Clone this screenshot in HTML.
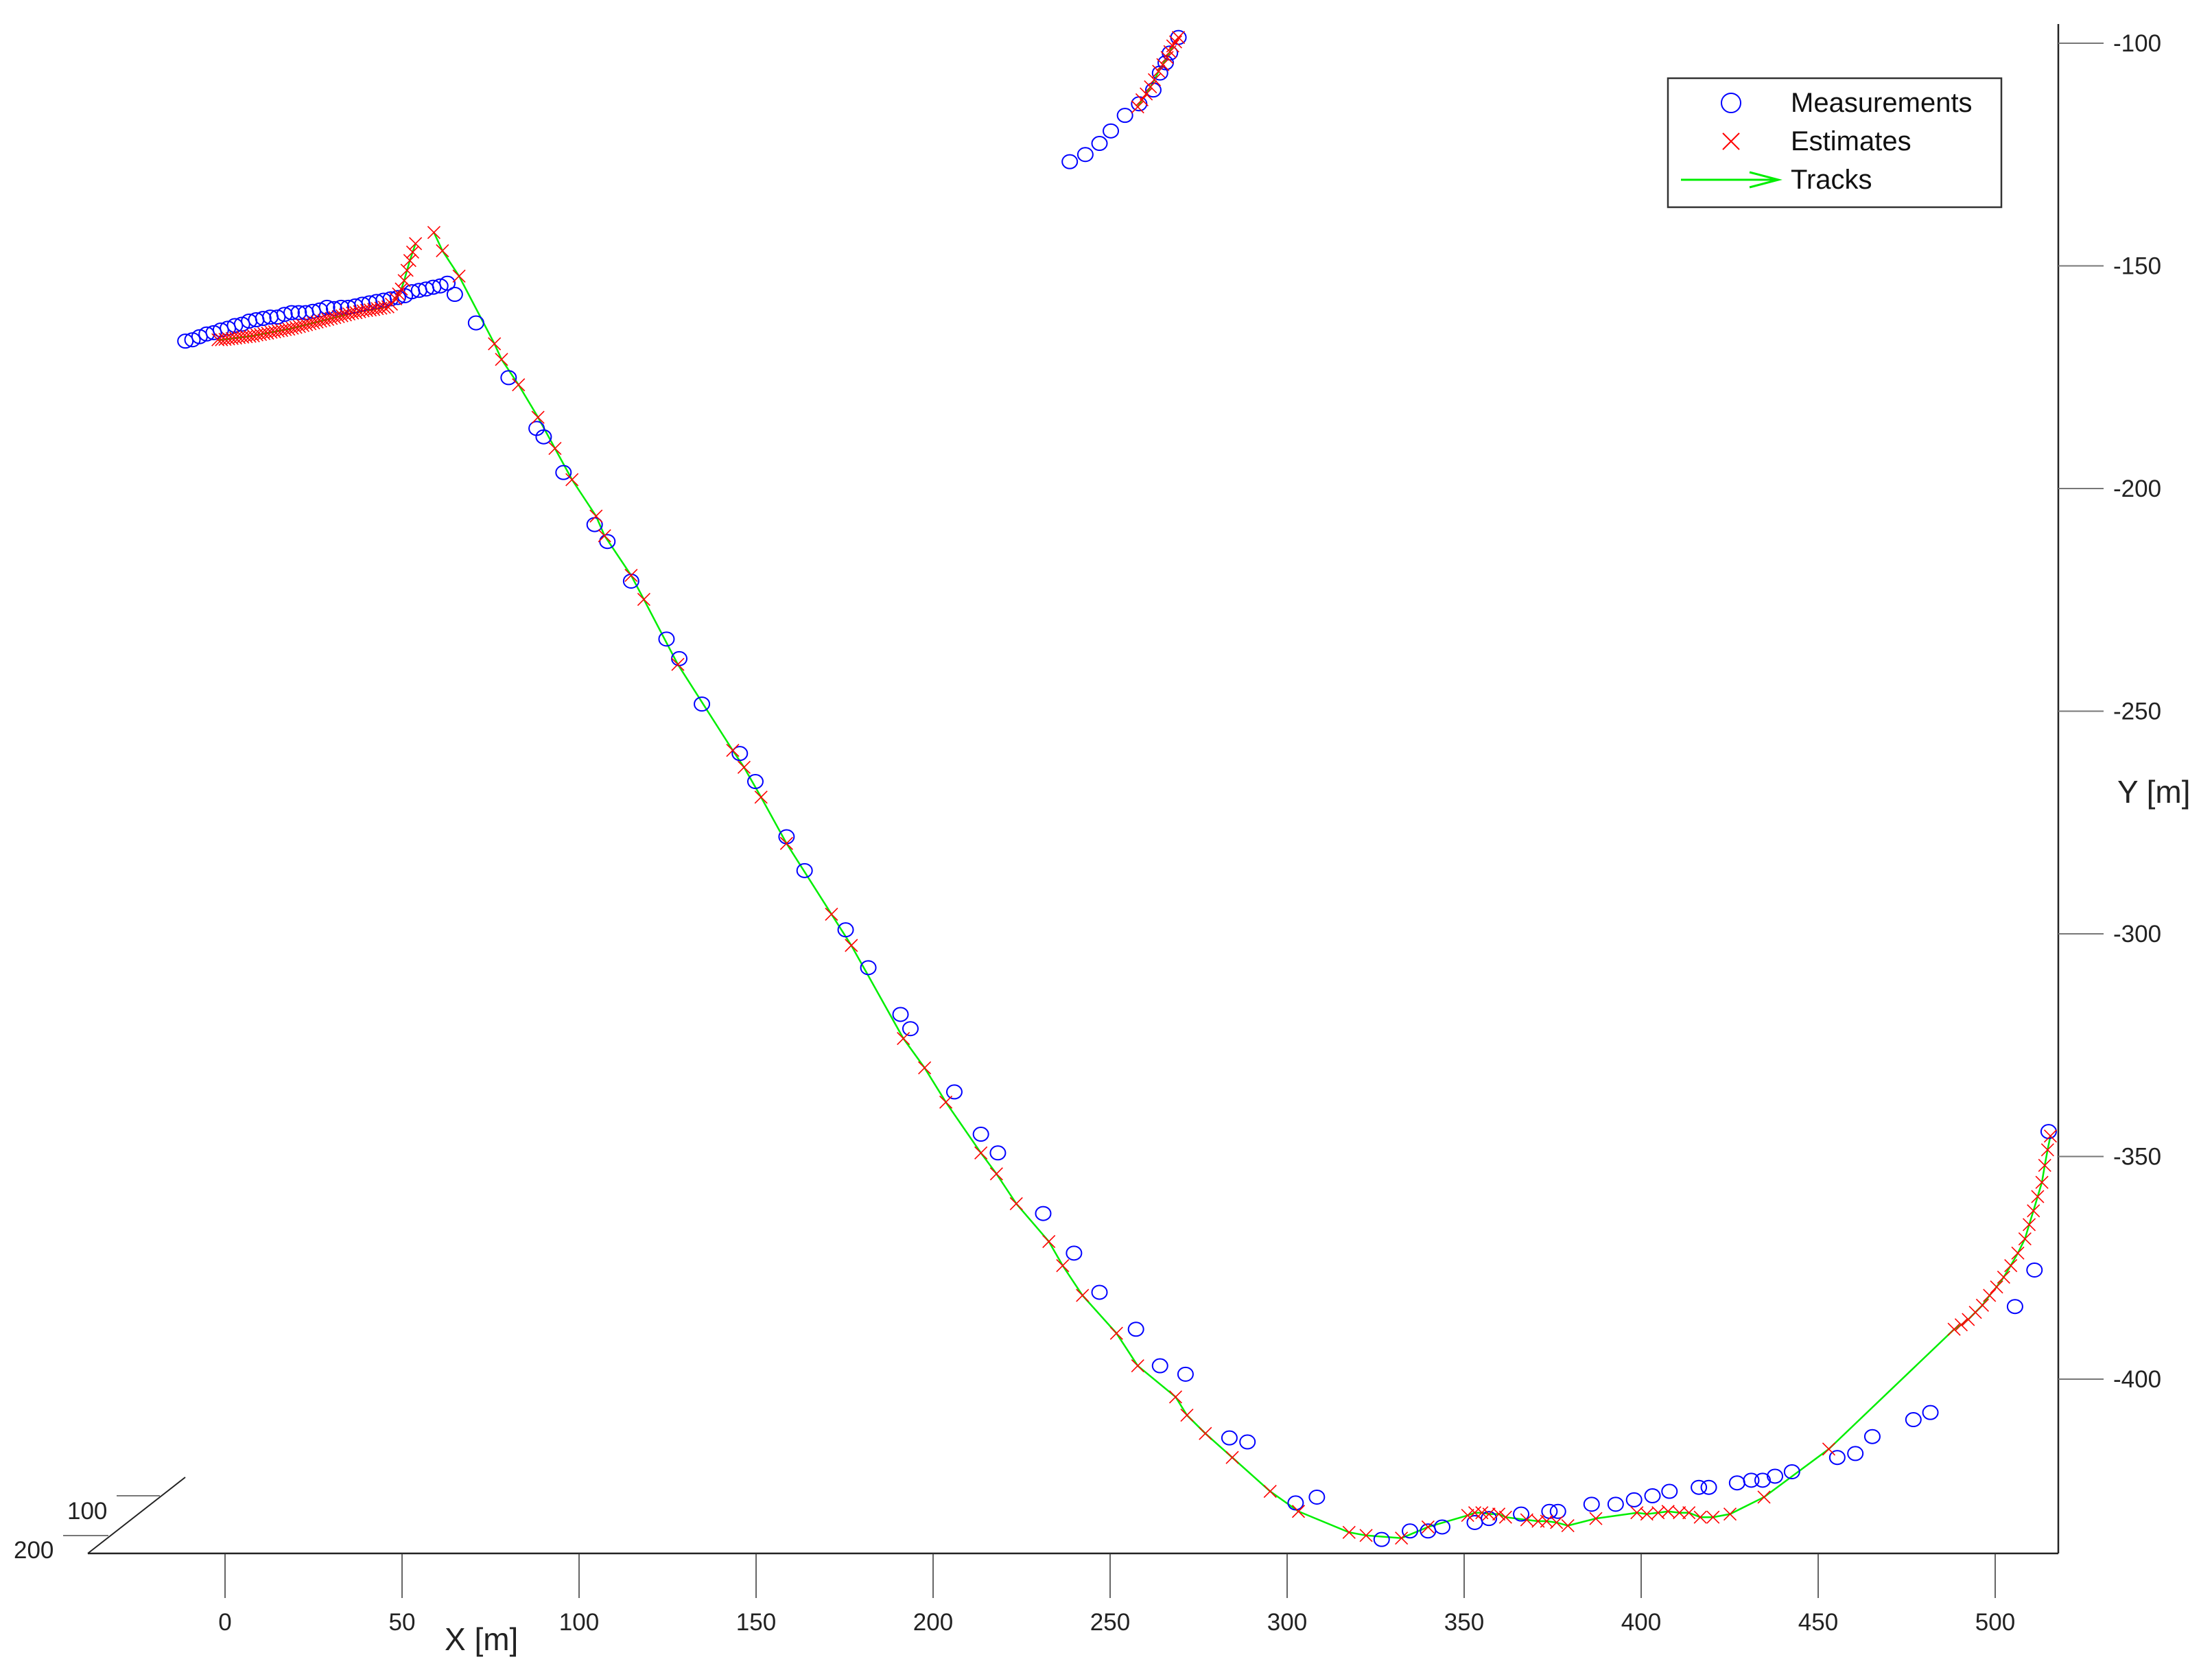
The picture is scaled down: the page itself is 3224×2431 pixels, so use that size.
<!DOCTYPE html>
<html><head><meta charset="utf-8"><style>
html,body{margin:0;padding:0;background:#fff;}
svg{display:block;font-family:"Liberation Sans",sans-serif;}
</style></head><body>
<svg id="chart" width="3224" height="2431" viewBox="0 0 3224 2431" xmlns="http://www.w3.org/2000/svg">
<rect x="0" y="0" width="3224" height="2431" fill="#fff"/>
<g id="axes"></g>
<g id="tracks"></g>
<g id="meas"></g>
<g id="est"></g>
<g>
<rect x="2431" y="114" width="486" height="188" fill="#fff" stroke="#333" stroke-width="2.5"/>
<circle cx="2523" cy="150" r="14" fill="none" stroke="#0000ff" stroke-width="2"/>
<text x="2610" y="163" font-size="40" fill="#111">Measurements</text>
<path d="M2511,194 L2535,218 M2535,194 L2511,218" stroke="#ff0000" stroke-width="2"/>
<text x="2610" y="219" font-size="40" fill="#111">Estimates</text>
<path d="M2450,262 L2590,262 M2550,251 L2592,262 L2550,273" stroke="#00ee00" stroke-width="3" fill="none"/>
<text x="2610" y="275" font-size="40" fill="#111">Tracks</text>
</g>
</svg>
<script>
const xTicks=[0,50,100,150,200,250,300,350,400,450,500];
const yTicks=[-100,-150,-200,-250,-300,-350,-400];
const measX=[238.6,243.0,247.0,250.2,254.2,258.2,262.2,264.1,265.7,266.9,269.3,
-11.2,-9.2,-7.2,-5.2,-3.2,-1.2,0.8,2.8,4.8,6.8,8.8,10.8,12.8,14.8,16.8,18.8,20.8,22.8,24.8,26.8,28.8,30.8,32.8,34.8,36.8,38.8,40.8,42.8,44.8,46.8,48.8,50.8,52.8,54.8,56.8,58.8,60.8,62.8,
64.9,70.9,80.1,88.0,90.0,95.6,104.4,108.0,114.7,124.7,128.3,134.7,145.4,149.8,158.6,163.7,175.3,181.7,190.8,193.6,206.0,213.5,218.3,231.1,239.8,247.0,257.3,264.1,271.3,283.7,288.8,302.4,308.4,326.7,334.7,339.8,343.8,353.0,357.0,366.1,374.1,376.5,386.0,392.8,398.0,403.2,408.0,416.3,419.1,427.1,431.1,434.3,437.8,442.6,455.4,460.5,465.3,476.9,481.7,505.6,511.1,515.1];
const measY=[-126.6,-125.0,-122.5,-119.7,-116.2,-113.6,-110.5,-106.7,-104.4,-102.2,-98.7,
-166.9,-166.6,-165.9,-165.3,-165.0,-164.4,-164.0,-163.4,-163.1,-162.4,-162.1,-161.8,-161.5,-161.5,-160.9,-160.5,-160.5,-160.5,-160.2,-159.9,-159.3,-159.6,-159.3,-159.3,-159.0,-158.6,-158.3,-158.0,-157.7,-157.4,-157.1,-156.7,-155.8,-155.5,-155.2,-154.8,-154.5,-153.9,
-156.4,-162.8,-175.1,-186.5,-188.4,-196.4,-208.1,-211.9,-220.8,-233.8,-238.2,-248.4,-259.5,-265.8,-278.2,-285.8,-299.1,-307.6,-318.1,-321.3,-335.5,-345.0,-349.2,-362.8,-371.7,-380.5,-388.8,-397.0,-398.9,-413.2,-414.1,-427.8,-426.5,-436.0,-434.1,-434.1,-433.2,-432.2,-431.3,-430.3,-429.7,-429.7,-428.1,-428.1,-427.1,-426.2,-425.2,-424.3,-424.3,-423.3,-422.7,-422.7,-421.8,-420.8,-417.6,-416.7,-412.9,-409.1,-407.5,-383.7,-375.5,-344.4];
const estMainX=[59.0,61.4,66.1,76.1,78.1,82.9,88.4,93.2,98.0,104.8,107.2,114.7,118.3,127.9,143.4,146.6,151.4,158.6,171.3,176.9,191.6,197.6,203.6,213.5,217.9,223.5,232.7,236.6,242.2,251.8,257.8,268.5,271.7,276.9,284.5,295.2,303.2,317.5,322.3,332.3,339.8,351.0,353.0,355.0,357.0,359.8,361.7,367.7,370.9,373.3,376.1,379.3,387.2,398.8,401.6,404.8,407.6,410.8,413.5,416.7,420.3,425.1,434.7,453.0,488.4,490.4,492.4,494.4,496.4,498.4,500.4,502.4,504.4,506.4,508.4,509.6,510.8,512.0,513.2,514.0,514.8,515.6];
const estMainY=[-142.5,-146.6,-152.3,-167.5,-171.0,-176.7,-184.0,-191.0,-198.0,-206.2,-210.6,-219.5,-224.9,-239.5,-258.8,-262.6,-269.3,-279.7,-295.6,-302.6,-323.5,-330.1,-337.8,-349.2,-353.9,-360.6,-369.1,-374.5,-381.2,-389.7,-397.0,-404.0,-408.1,-412.2,-417.6,-425.2,-429.7,-434.4,-435.1,-435.7,-433.2,-430.6,-430.0,-430.0,-430.3,-430.3,-431.0,-431.6,-431.9,-431.9,-432.2,-432.9,-431.3,-430.0,-430.3,-430.0,-429.7,-430.0,-430.0,-431.0,-431.0,-430.3,-426.5,-415.7,-388.8,-387.8,-386.6,-385.0,-383.4,-381.2,-379.3,-377.1,-374.5,-371.7,-368.5,-365.3,-362.2,-359.0,-355.8,-352.0,-348.5,-345.4];
const estLeftX=[-2,-1,0,1,2,3,4,5,6,7,8,9,10,11,12,13,14,15,16,17,18,19,20,21,22,23,24,25,26,27,28,29,30,31,32,33,34,35,36,37,38,39,40,41,42,43,44,45,46,47,48.2,49.0,49.8,50.6,51.4,52.2,53.0,53.8];
const estLeftY=[-166.6,-166.6,-166.5,-166.4,-166.3,-166.2,-166.1,-166.0,-165.9,-165.8,-165.7,-165.5,-165.4,-165.2,-165.1,-164.9,-164.8,-164.6,-164.5,-164.3,-164.2,-164.0,-163.8,-163.6,-163.4,-163.2,-163.0,-162.8,-162.6,-162.4,-162.2,-162.0,-161.8,-161.6,-161.4,-161.2,-161.0,-160.8,-160.6,-160.5,-160.3,-160.1,-160.0,-159.9,-159.8,-159.6,-159.5,-159.3,-159.2,-158.6,-157.4,-156.3,-155.2,-153.3,-151.0,-148.8,-146.9,-145.0];
const estTopX=[257.8,259.0,260.2,261.4,262.5,263.7,264.9,266.1,266.9,267.7,268.5,269.3];
const estTopY=[-114.3,-112.7,-111.4,-109.8,-108.2,-106.3,-104.8,-103.2,-101.9,-100.6,-99.7,-98.7];

const NS="http://www.w3.org/2000/svg";
function X(v){return 328+5.16*v;}
function Y(v){return 63+(-100-v)*6.49;}
function mk(tag,attrs,parent){const e=document.createElementNS(NS,tag);for(const k in attrs)e.setAttribute(k,attrs[k]);parent.appendChild(e);return e;}
const axes=document.getElementById('axes');
let e;
e=mk('line',{x1:128,y1:2264,x2:3000,y2:2264,stroke:'#222','stroke-width':2.5},axes);


e=mk('line',{x1:3000,y1:35,x2:3000,y2:2264,stroke:'#222','stroke-width':2.5},axes);


e=mk('line',{x1:128,y1:2264,x2:270,y2:2153,stroke:'#222','stroke-width':2},axes);


e=mk('line',{x1:92,y1:2238,x2:158,y2:2238,stroke:'#777','stroke-width':2},axes);


e=mk('line',{x1:170,y1:2180,x2:233,y2:2180,stroke:'#777','stroke-width':2},axes);


e=mk('text',{x:98,y:2214,'font-size':35,fill:'#222'},axes);e.textContent='100';


e=mk('text',{x:20,y:2271,'font-size':35,fill:'#222'},axes);e.textContent='200';


xTicks.forEach(t=>{
  const l=mk('line',{x1:X(t),y1:2264,x2:X(t),y2:2329,stroke:'#333','stroke-width':1.5},axes);
  
  
  const tx=mk('text',{x:X(t),y:2376,'font-size':35,fill:'#222','text-anchor':'middle'},axes);tx.textContent=t;
  
  
});
yTicks.forEach(t=>{
  const l=mk('line',{x1:3000,y1:Y(t),x2:3066,y2:Y(t),stroke:'#777','stroke-width':2},axes);
  
  
  const tx=mk('text',{x:3080,y:Y(t)+12,'font-size':35,fill:'#222'},axes);tx.textContent=t;
  
  
});
e=mk('text',{x:648,y:2405,'font-size':46,fill:'#222'},axes);e.textContent='X [m]';


e=mk('text',{x:3086,y:1170,'font-size':46,fill:'#222'},axes);e.textContent='Y [m]';



const tracks=document.getElementById('tracks');
[[estMainX,estMainY,'track-main'],[estLeftX,estLeftY,'track-left'],[estTopX,estTopY,'track-top']].forEach(([xs,ys,n])=>{
  const p=mk('polyline',{points:xs.map((v,i)=>X(v)+','+Y(ys[i])).join(' '),fill:'none',stroke:'#00ee00','stroke-width':2.5},tracks);
  
  
});
const meas=document.getElementById('meas');
measX.forEach((v,i)=>{
  const c=mk('ellipse',{cx:X(v),cy:Y(measY[i]),rx:11,ry:10,fill:'none',stroke:'#0000ff','stroke-width':2},meas);
  
  
});
const est=document.getElementById('est');
[[estMainX,estMainY],[estLeftX,estLeftY],[estTopX,estTopY]].forEach(([xs,ys])=>{
  xs.forEach((v,i)=>{
    const cx=X(v),cy=Y(ys[i]),s=9;
    const p=mk('path',{d:`M${cx-s},${cy-s}L${cx+s},${cy+s}M${cx+s},${cy-s}L${cx-s},${cy+s}`,stroke:'#ff0000','stroke-width':1.6},est);
    
    
  });
});
</script>
</body></html>
